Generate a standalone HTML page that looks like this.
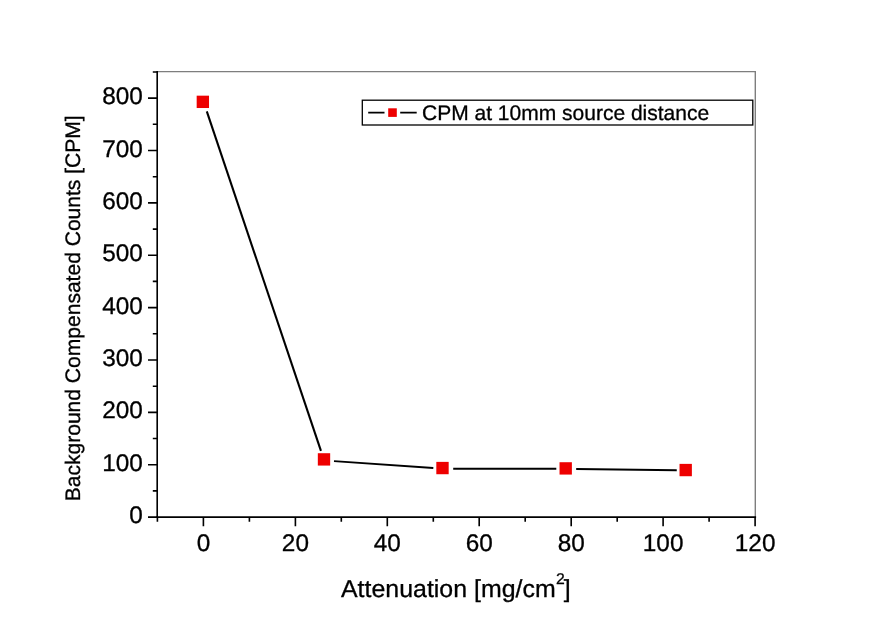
<!DOCTYPE html>
<html lang="en"><head><meta charset="utf-8"><title>Attenuation plot</title>
<style>html,body{margin:0;padding:0;background:#fff}body{width:877px;height:620px;overflow:hidden}svg{display:block}svg{will-change:transform}text{text-rendering:geometricPrecision;stroke:#000;stroke-width:0.3px;font-family:"Liberation Sans",sans-serif;fill:#000}</style></head><body>
<svg width="877" height="620" viewBox="0 0 877 620">
<rect width="877" height="620" fill="#fff"/>
<path d="M157.2 71.6H755.3" fill="none" stroke="#7e7e7e" stroke-width="1.15"/>
<path d="M755.3 71.1V517.1" fill="none" stroke="#7e7e7e" stroke-width="1.4"/>
<g stroke="#000" stroke-width="1.62" fill="none">
<path d="M157.2 71.0V518.1"/>
<path d="M156.2 517.1H756.1"/>
<path d="M157.2 517.1h-9.2M157.2 464.7h-9.2M157.2 412.4h-9.2M157.2 360.0h-9.2M157.2 307.6h-9.2M157.2 255.2h-9.2M157.2 202.9h-9.2M157.2 150.5h-9.2M157.2 98.1h-9.2M157.2 490.9h-4.4M157.2 438.5h-4.4M157.2 386.2h-4.4M157.2 333.8h-4.4M157.2 281.4h-4.4M157.2 229.1h-4.4M157.2 176.7h-4.4M157.2 124.3h-4.4M157.2 72.0h-4.4M203.4 517.1v9.1M295.4 517.1v9.1M387.3 517.1v9.1M479.2 517.1v9.1M571.2 517.1v9.1M663.1 517.1v9.1M755.1 517.1v9.1M157.4 517.1v4.7M249.4 517.1v4.7M341.3 517.1v4.7M433.3 517.1v4.7M525.2 517.1v4.7M617.2 517.1v4.7M709.1 517.1v4.7"/>
</g>
<g font-size="24" text-anchor="end">
<text transform="translate(142.8 523.1) scale(1.015 1)">0</text>
<text transform="translate(142.8 470.7) scale(1.015 1)">100</text>
<text transform="translate(142.8 418.4) scale(1.015 1)">200</text>
<text transform="translate(142.8 366.0) scale(1.015 1)">300</text>
<text transform="translate(142.8 313.6) scale(1.015 1)">400</text>
<text transform="translate(142.8 261.2) scale(1.015 1)">500</text>
<text transform="translate(142.8 208.9) scale(1.015 1)">600</text>
<text transform="translate(142.8 156.5) scale(1.015 1)">700</text>
<text transform="translate(142.8 104.1) scale(1.015 1)">800</text>
</g>
<g font-size="24" text-anchor="middle">
<text transform="translate(203.4 551.0) scale(1.015 1)">0</text>
<text transform="translate(295.4 551.0) scale(1.015 1)">20</text>
<text transform="translate(387.3 551.0) scale(1.015 1)">40</text>
<text transform="translate(479.2 551.0) scale(1.015 1)">60</text>
<text transform="translate(571.2 551.0) scale(1.015 1)">80</text>
<text transform="translate(663.1 551.0) scale(1.015 1)">100</text>
<text transform="translate(755.1 551.0) scale(1.015 1)">120</text>
</g>
<text transform="translate(341.0 596.6) scale(1.017 1)" font-size="24.5">Attenuation [mg/cm<tspan font-size="15.5" dx="0.4" dy="-12.2">2</tspan><tspan dx="-1" dy="12.2">]</tspan></text>
<text transform="translate(80.1 501.3) rotate(-90) scale(1.002 1)" font-size="21">Background Compensated Counts [CPM]</text>
<g stroke="#000" stroke-width="1.9" fill="none">
<path d="M206.80 111.40L320.95 450.95" stroke-width="2.1"/>
<path d="M334.00 461.10L433.30 468.05"/>
<path d="M453.20 468.70L556.30 468.70"/>
<path d="M576.20 469.00L676.75 470.20"/>
</g>
<g fill="#ee0000">
<rect x="196.67" y="95.67" width="12.35" height="12.35"/>
<rect x="317.82" y="453.22" width="12.35" height="12.35"/>
<rect x="436.32" y="461.88" width="12.35" height="12.35"/>
<rect x="559.53" y="462.22" width="12.35" height="12.35"/>
<rect x="679.53" y="463.88" width="12.35" height="12.35"/>
</g>
<rect x="362.3" y="100.2" width="390.5" height="24.8" fill="#fff" stroke="#000" stroke-width="1.3"/>
<path d="M368.2 112.7H384.5M400.2 112.7H416.7" stroke="#000" stroke-width="1.8"/>
<rect x="388.2" y="108.3" width="8.6" height="8.6" fill="#ee0000"/>
<text x="422.0" y="120.1" font-size="21">CPM at 10mm source distance</text>
</svg></body></html>
